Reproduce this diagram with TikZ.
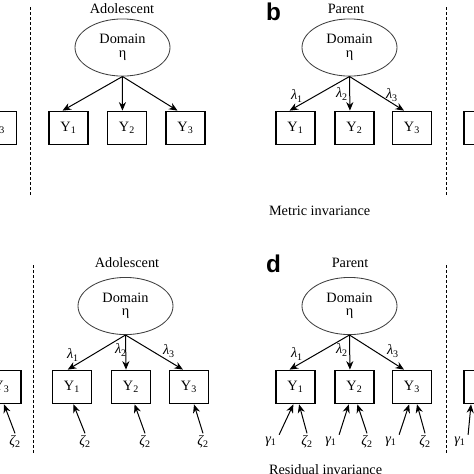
\documentclass[tikz,border=0pt]{standalone}
\usepackage{fontspec}
\setmainfont{Liberation Serif}
\newfontfamily\panelfont{Liberation Sans}
\usetikzlibrary{positioning,shapes.geometric,arrows.meta}

\begin{document}
\begin{tikzpicture}[x=0.7pt,y=-0.7pt,
box/.style={draw,rectangle,line width=0.8pt,minimum width=27.3pt,minimum height=23.5pt,inner sep=0pt},
latent/.style={draw=black!75,ellipse,line width=0.6pt,minimum width=66.5pt,minimum height=40pt,inner sep=0pt,align=center},
load/.style={-{Stealth[length=6pt,width=5pt]},line width=0.7pt},
divider/.style={dash pattern=on 2.3pt off 1.2pt,line width=0.6pt},
coef/.style={inner sep=0pt,font=\itshape},
resid/.style={inner sep=1.5pt,font=\itshape},
group/.style={anchor=base},
panel/.style={anchor=base west,font=\panelfont\bfseries\fontsize{17}{17}\selectfont}]
\useasboundingbox (0,0) rectangle (474,474);
\clip (0,0) rectangle (474,474);

% top row
\draw[divider] (30,7) -- (30,197);
\draw[divider] (446,7) -- (446,197);
\node (prevY3) [box] at (-3,128) {Y\textsubscript{3}};
\node (nextY1) [box] at (483.5,128) {};

\node (adoA) [group] at (122,13) {Adolescent};
\node (adoAeta) [latent] at (122.5,47.5) {Domain\\[-2.5pt]η};
\node (adoAy1) [box] at (68.5,128) {Y\textsubscript{1}};
\node (adoAy2) [box] at (127,128) {Y\textsubscript{2}};
\node (adoAy3) [box] at (185.5,128) {Y\textsubscript{3}};
\draw[load] (adoAeta.south) -- ([xshift=-4.2pt]adoAy1.north);
\draw[load] (adoAeta.south) -- ([xshift=-3.2pt]adoAy2.north);
\draw[load] (adoAeta.south) -- ([xshift=-5.6pt]adoAy3.north);

\node (tagb) [panel] at (261,20) {b};
\node (parB) [group] at (346,13) {Parent};
\node (parBeta) [latent] at (349.5,47.5) {Domain\\[-2.5pt]η};
\node (parBy1) [box] at (295.5,128) {Y\textsubscript{1}};
\node (parBy2) [box] at (354.5,128) {Y\textsubscript{2}};
\node (parBy3) [box] at (412,128) {Y\textsubscript{3}};
\draw[load] (parBeta.south) -- ([xshift=-4.2pt]parBy1.north);
\draw[load] (parBeta.south) -- ([xshift=-3.2pt]parBy2.north);
\draw[load] (parBeta.south) -- ([xshift=-5.6pt]parBy3.north);
\node (parBl1) [coef] at (297,96) {λ\textsubscript{\upshape 1}};
\node (parBl2) [coef] at (342,94) {λ\textsubscript{\upshape 2}};
\node (parBl3) [coef] at (392,95) {λ\textsubscript{\upshape 3}};
\node (metric) [anchor=base west] at (264,215) {Metric invariance};

% bottom row
\draw[divider] (33,265) -- (33,454);
\draw[divider] (446,265) -- (446,454);
\node (prevY3c) [box] at (1.5,387) {Y\textsubscript{3}};
\node (prevZ3c) [resid] at (15,442) {ζ\textsubscript{\upshape 2}};
\draw[load] (prevZ3c.north) -- ([xshift=1.75pt]prevY3c.south);

\node (adoC) [group] at (127,267) {Adolescent};
\node (adoCeta) [latent] at (125.5,306) {Domain\\[-2.5pt]η};
\node (adoCy1) [box] at (72,387) {Y\textsubscript{1}};
\node (adoCy2) [box] at (131,387) {Y\textsubscript{2}};
\node (adoCy3) [box] at (189,387) {Y\textsubscript{3}};
\draw[load] (adoCeta.south) -- ([xshift=-3pt]adoCy1.north);
\draw[load] (adoCeta.south) -- ([xshift=-3.5pt]adoCy2.north);
\draw[load] (adoCeta.south) -- ([xshift=-4.2pt]adoCy3.north);
\node (adoCl1) [coef] at (73,355) {λ\textsubscript{\upshape 1}};
\node (adoCl2) [coef] at (121,350) {λ\textsubscript{\upshape 2}};
\node (adoCl3) [coef] at (169,351) {λ\textsubscript{\upshape 3}};
\node (adoCz1) [resid] at (85,442) {ζ\textsubscript{\upshape 2}};
\node (adoCz2) [resid] at (145,442) {ζ\textsubscript{\upshape 2}};
\node (adoCz3) [resid] at (203,442) {ζ\textsubscript{\upshape 2}};
\draw[load] (adoCz1.north) -- ([xshift=1pt]adoCy1.south);
\draw[load] (adoCz2.north) -- ([xshift=2.5pt]adoCy2.south);
\draw[load] (adoCz3.north) -- ([xshift=3.5pt]adoCy3.south);

\node (tagd) [panel] at (261,272) {d};
\node (parD) [group] at (350,267) {Parent};
\node (parDeta) [latent] at (349.5,306) {Domain\\[-2.5pt]η};
\node (parDy1) [box] at (295.5,387) {Y\textsubscript{1}};
\node (parDy2) [box] at (354.5,387) {Y\textsubscript{2}};
\node (parDy3) [box] at (412,387) {Y\textsubscript{3}};
\draw[load] (parDeta.south) -- ([xshift=-4.2pt]parDy1.north);
\draw[load] (parDeta.south) -- ([xshift=-3.2pt]parDy2.north);
\draw[load] (parDeta.south) -- ([xshift=-5.6pt]parDy3.north);
\node (parDl1) [coef] at (297,354) {λ\textsubscript{\upshape 1}};
\node (parDl2) [coef] at (342,350) {λ\textsubscript{\upshape 2}};
\node (parDl3) [coef] at (393,351) {λ\textsubscript{\upshape 3}};
\node (parDg1) [resid] at (271,442) {γ\textsubscript{\upshape 1}};
\node (parDg2) [resid] at (331,442) {γ\textsubscript{\upshape 1}};
\node (parDg3) [resid] at (391,442) {γ\textsubscript{\upshape 1}};
\node (parDz1) [resid] at (307,442) {ζ\textsubscript{\upshape 2}};
\node (parDz2) [resid] at (367,442) {ζ\textsubscript{\upshape 2}};
\node (parDz3) [resid] at (425,442) {ζ\textsubscript{\upshape 2}};
\draw[load] (parDg1.north east) -- ([xshift=-1.5pt]parDy1.south);
\draw[load] (parDg2.north east) -- ([xshift=-4pt]parDy2.south);
\draw[load] (parDg3.north east) -- ([xshift=-2pt]parDy3.south);
\draw[load] (parDz1.north) -- ([xshift=2.5pt]parDy1.south);
\draw[load] (parDz2.north) -- ([xshift=2pt]parDy2.south);
\draw[load] (parDz3.north) -- ([xshift=3.5pt]parDy3.south);
\node (nextY1d) [box] at (483.5,387) {};
\node (nextG1d) [resid] at (460,442) {γ\textsubscript{\upshape 1}};
\draw[load] (nextG1d.north east) -- ([xshift=-8.75pt]nextY1d.south);
\node (resid) [anchor=base west] at (264,474) {Residual invariance};
\end{tikzpicture}
\end{document}
